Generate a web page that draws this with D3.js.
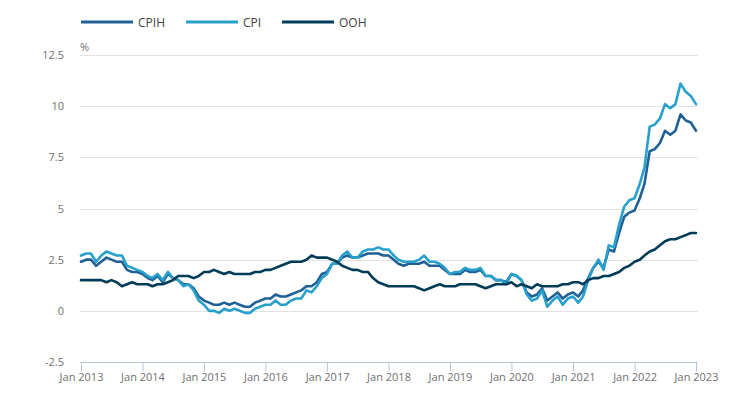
<!DOCTYPE html>
<html>
<head>
<meta charset="utf-8">
<script src="https://cdn.jsdelivr.net/npm/d3@7"></script>
<style>
  body { margin: 0; background: #fff; }
  #graph_container { width: 756px; height: 404px; }
  text { font-family: 'Open Sans', sans-serif; }
</style>
</head>
<body>
<div id="graph_container"></div>
<script>
// monthly 12-month rates, Jan 2013 .. Jan 2023
var start_month = new Date(2013, 0, 1);

var cpih = [2.4,2.5,2.5,2.2,2.4,2.6,2.5,2.4,2.4,2.0,1.9,1.9,
            1.8,1.6,1.5,1.7,1.4,1.8,1.6,1.5,1.3,1.3,1.1,0.7,
            0.5,0.4,0.3,0.3,0.4,0.3,0.4,0.3,0.2,0.2,0.4,0.5,
            0.6,0.6,0.8,0.7,0.7,0.8,0.9,1.0,1.2,1.2,1.4,1.8,
            1.9,2.3,2.3,2.6,2.7,2.6,2.6,2.7,2.8,2.8,2.8,2.7,
            2.7,2.5,2.3,2.2,2.3,2.3,2.3,2.4,2.2,2.2,2.2,2.0,
            1.8,1.8,1.8,2.0,1.9,1.9,2.0,1.7,1.7,1.5,1.5,1.4,
            1.8,1.7,1.5,0.9,0.7,0.8,1.1,0.5,0.7,0.9,0.6,0.8,
            0.9,0.7,1.0,1.6,2.1,2.4,2.1,3.0,2.9,3.8,4.6,4.8,
            4.9,5.5,6.2,7.8,7.9,8.2,8.8,8.6,8.8,9.6,9.3,9.2,
            8.8];

var cpi = [2.7,2.8,2.8,2.4,2.7,2.9,2.8,2.7,2.7,2.2,2.1,2.0,
           1.9,1.7,1.6,1.8,1.5,1.9,1.6,1.5,1.2,1.3,1.0,0.5,
           0.3,0.0,0.0,-0.1,0.1,0.0,0.1,0.0,-0.1,-0.1,0.1,0.2,
           0.3,0.3,0.5,0.3,0.3,0.5,0.6,0.6,1.0,0.9,1.2,1.6,
           1.8,2.3,2.3,2.7,2.9,2.6,2.6,2.9,3.0,3.0,3.1,3.0,
           3.0,2.7,2.5,2.4,2.4,2.4,2.5,2.7,2.4,2.4,2.3,2.1,
           1.8,1.9,1.9,2.1,2.0,2.0,2.1,1.7,1.7,1.5,1.5,1.3,
           1.8,1.7,1.5,0.8,0.5,0.6,1.0,0.2,0.5,0.7,0.3,0.6,
           0.7,0.4,0.7,1.5,2.1,2.5,2.0,3.2,3.1,4.2,5.1,5.4,
           5.5,6.2,7.0,9.0,9.1,9.4,10.1,9.9,10.1,11.1,10.7,10.5,
           10.1];

var ooh = [1.5,1.5,1.5,1.5,1.5,1.4,1.5,1.4,1.2,1.3,1.4,1.3,
           1.3,1.3,1.2,1.3,1.3,1.4,1.5,1.7,1.7,1.7,1.6,1.7,
           1.9,1.9,2.0,1.9,1.8,1.9,1.8,1.8,1.8,1.8,1.9,1.9,
           2.0,2.0,2.1,2.2,2.3,2.4,2.4,2.4,2.5,2.7,2.6,2.6,
           2.6,2.5,2.4,2.2,2.1,2.0,2.0,1.9,1.9,1.6,1.4,1.3,
           1.2,1.2,1.2,1.2,1.2,1.2,1.1,1.0,1.1,1.2,1.3,1.2,
           1.2,1.2,1.3,1.3,1.3,1.3,1.2,1.1,1.2,1.3,1.3,1.3,
           1.4,1.2,1.3,1.2,1.1,1.3,1.2,1.2,1.2,1.2,1.3,1.3,
           1.4,1.4,1.3,1.5,1.6,1.6,1.7,1.7,1.8,1.9,2.1,2.2,
           2.4,2.5,2.7,2.9,3.0,3.2,3.4,3.5,3.5,3.6,3.7,3.8,
           3.8];

var series_names = ['CPIH','CPI','OOH'];
var series_colors = ['#206095','#27a0cc','#003c57'];
var y_ticks = [-2.5, 0, 2.5, 5, 7.5, 10, 12.5];
var x_tick_years = [2013,2014,2015,2016,2017,2018,2019,2020,2021,2022,2023];

var w = 756;
var h = 404;

var svg = d3.select('#graph_container')
            .append('svg')
            .attr('width', w)
            .attr('height', h);

var dates = cpi.map(function(d, i) { return d3.timeMonth.offset(start_month, i); });

var xScale = d3.scaleTime()
               .domain([start_month, dates[dates.length-1]])
               .range([81, 696]);

var yScale = d3.scaleLinear()
               .domain([-2.5, 12.5])
               .range([362, 55]);

// gridlines
svg.append('g')
   .selectAll('line')
   .data(y_ticks.filter(function(d) { return d != -2.5; }))
   .enter()
   .append('line')
   .attr('x1', 80)
   .attr('x2', 698)
   .attr('y1', function(d) { return Math.round(yScale(d)) + 0.5; })
   .attr('y2', function(d) { return Math.round(yScale(d)) + 0.5; })
   .attr('stroke', '#e1e1e1')
   .attr('stroke-width', 1);

// y labels
svg.append('g')
   .selectAll('text')
   .data(y_ticks)
   .enter()
   .append('text')
   .attr('x', 64)
   .attr('y', function(d) { return yScale(d) + 4; })
   .attr('text-anchor', 'end')
   .attr('font-size', 11)
   .attr('fill', '#707070')
   .text(function(d) { return String(d); });

svg.append('text')
   .attr('x', 80)
   .attr('y', 51)
   .attr('font-size', 11)
   .attr('fill', '#707070')
   .text('%');

// x axis
var xAxis = d3.axisBottom()
              .scale(xScale)
              .tickValues(x_tick_years.map(function(y) { return new Date(y, 0, 1); }))
              .tickFormat(d3.timeFormat('%b %Y'))
              .tickSize(9)
              .tickSizeOuter(0);

var gx = svg.append('g')
            .attr('transform', 'translate(0,' + 362.5 + ')')
            .call(xAxis);
gx.select('.domain').attr('d', 'M80,0H698').attr('stroke', '#b7c4d8');
gx.selectAll('.tick line').attr('stroke', '#b7c4d8');
gx.selectAll('.tick text')
  .attr('font-family', "'Open Sans', sans-serif")
  .attr('font-size', 11)
  .attr('fill', '#707070')
  .attr('dy', '0.6em');

// lines
var all_series = [cpih, cpi, ooh];
var line = d3.line()
             .x(function(d, i) { return xScale(dates[i]); })
             .y(function(d) { return yScale(d); });

for (i = 0; i < all_series.length; i++) {
  svg.append('path')
     .datum(all_series[i])
     .attr('fill', 'none')
     .attr('stroke', series_colors[i])
     .attr('stroke-width', 2.6)
     .attr('stroke-linejoin', 'round')
     .attr('stroke-linecap', 'round')
     .attr('d', line);
}

// legend
var legend_x = [81, 186, 282];
for (i = 0; i < series_names.length; i++) {
  svg.append('line')
     .attr('x1', legend_x[i])
     .attr('x2', legend_x[i] + 52)
     .attr('y1', 22)
     .attr('y2', 22)
     .attr('stroke', series_colors[i])
     .attr('stroke-width', 3);
  svg.append('text')
     .attr('x', legend_x[i] + 57)
     .attr('y', 26.5)
     .attr('font-size', 12)
     .attr('fill', '#414042')
     .text(series_names[i]);
}
</script>
</body>
</html>
